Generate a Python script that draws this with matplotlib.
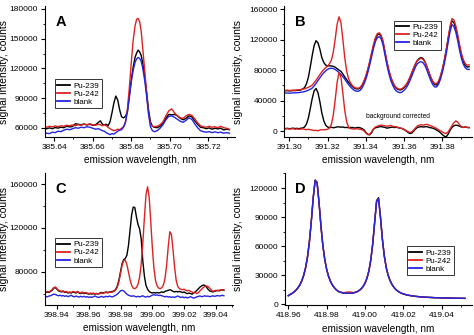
import numpy as np
import matplotlib
matplotlib.use("Agg")
import matplotlib.pyplot as plt
from matplotlib.ticker import MultipleLocator, FormatStrFormatter

plt.rcParams['font.family'] = ['Liberation Sans Narrow', 'Liberation Sans', 'DejaVu Sans']

BLACK = '#000000'
RED = '#dd2222'
BLUE = '#2424e0'
series_labels = ['Pu-239', 'Pu-242', 'blank']
xlabel = 'emission wavelength, nm'
ylabel = 'signal intensity, counts'

# ---------------- Panel A: 385.68 nm region (counts in thousands) ----------------
a_wl = [385.6360, 385.6375, 385.6390, 385.6405, 385.6420, 385.6435, 385.6450, 385.6465,
        385.6480, 385.6495, 385.6510, 385.6525, 385.6540, 385.6555, 385.6570, 385.6585,
        385.6600, 385.6615, 385.6630, 385.6640, 385.6650, 385.6660, 385.6670, 385.6680,
        385.6690, 385.6700, 385.6710, 385.6720, 385.6730, 385.6740, 385.6750, 385.6760,
        385.6770, 385.6780, 385.6790, 385.6800, 385.6810, 385.6820, 385.6828, 385.6836,
        385.6844, 385.6852, 385.6860, 385.6870, 385.6880, 385.6890, 385.6900, 385.6910,
        385.6920, 385.6935, 385.6950, 385.6965, 385.6980, 385.6995, 385.7010, 385.7025,
        385.7040, 385.7055, 385.7070, 385.7085, 385.7100, 385.7115, 385.7130, 385.7145,
        385.7160, 385.7175, 385.7190, 385.7205, 385.7220, 385.7235, 385.7250, 385.7265,
        385.7280, 385.7295, 385.7310]
a_pu239 = [59.0, 59.8, 59.0, 60.2, 59.6, 60.5, 60.0, 61.5,
           60.8, 61.2, 64.0, 63.5, 63.0, 63.8, 62.8, 63.5,
           62.5, 63.0, 65.5, 67.0, 63.5, 63.0, 63.5, 62.0,
           66.0, 75.0, 85.0, 92.0, 88.0, 78.0, 71.0, 70.0,
           71.5, 76.0, 92.0, 108.0, 121.0, 131.0, 135.5, 138.5,
           136.5, 133.0, 125.0, 112.0, 96.0, 78.0, 66.0, 61.5,
           60.5, 60.0, 61.5, 64.5, 69.5, 73.5, 73.0, 73.5,
           72.0, 69.5, 68.0, 69.5, 72.0, 71.0, 67.0, 63.5,
           60.5, 60.0, 59.0, 59.8, 58.5, 59.5, 58.8, 59.5,
           57.8, 58.5, 58.0]
a_pu242 = [60.5, 61.5, 60.8, 61.8, 61.0, 62.0, 61.5, 62.5,
           62.0, 62.8, 62.0, 63.0, 62.5, 63.5, 63.0, 64.0,
           63.0, 62.5, 63.5, 63.0, 62.0, 63.0, 62.0, 60.5,
           59.0, 58.0, 57.0, 57.5, 58.5, 58.0, 59.5, 61.0,
           66.0, 78.0, 100.0, 125.0, 148.0, 163.0, 169.5, 170.5,
           167.0, 157.0, 140.0, 118.0, 95.0, 75.0, 64.0, 61.5,
           61.0, 61.5, 63.0, 66.0, 72.0, 77.0, 79.0, 75.0,
           72.0, 70.0, 69.5, 72.0, 73.5, 72.5, 69.0, 65.0,
           62.0, 61.0, 60.5, 61.5, 60.5, 61.0, 60.0, 61.5,
           60.0, 59.5, 58.5]
a_blank = [54.5, 54.0, 55.5, 55.0, 56.5, 56.0, 57.5, 58.5,
           58.0, 59.0, 60.0, 59.5, 60.5, 60.0, 61.0, 60.5,
           59.5, 58.5, 59.0, 58.0, 57.0, 56.5, 55.0, 54.0,
           53.0, 54.0, 53.5, 55.0, 56.5, 57.5, 58.0, 60.5,
           65.0, 76.0, 90.0, 106.0, 118.0, 126.0, 129.5, 131.0,
           130.0, 127.0, 120.0, 108.0, 92.0, 74.0, 61.0, 57.0,
           56.0, 57.0, 59.5, 63.0, 68.0, 71.5, 72.0, 70.5,
           68.5, 66.5, 65.5, 67.5, 70.0, 68.5, 64.0, 60.0,
           57.0, 56.0, 55.5, 56.0, 55.0, 55.8, 55.0, 55.5,
           54.5, 55.0, 54.5]

# ---------------- Panel B: 391.3 nm region, sampled every 0.001 nm from 391.298 ----------------
b_start, b_step = 391.298, 0.001
b_pu239 = [53.0, 53.2, 52.8, 53.0, 53.3, 53.2, 53.5, 53.6, 54.0, 55.3,
           57.2, 62.2, 70.9, 84.6, 99.4, 112.4, 118.6, 115.8, 107.4, 96.5,
           90.2, 86.6, 85.6, 85.7, 85.5, 85.0, 83.8, 82.0, 80.0, 78.5,
           75.0, 71.0, 67.5, 64.0, 61.0, 58.5, 56.5, 55.5, 55.3, 56.5,
           59.5, 64.5, 71.0, 79.5, 89.5, 100.5, 111.5, 120.5, 126.0, 127.5,
           124.5, 116.5, 103.5, 90.5, 79.5, 70.5, 64.0, 59.0, 56.0, 54.5,
           54.0, 55.0, 57.0, 60.0, 64.0, 69.5, 76.0, 82.5, 88.5, 93.0,
           95.5, 96.5, 95.0, 90.5, 84.0, 77.0, 70.0, 64.5, 61.0, 60.5,
           64.0, 71.0, 80.5, 92.0, 105.5, 121.0, 135.0, 144.5, 142.5, 135.0,
           123.5, 110.5, 99.0, 91.0, 86.0, 84.0, 84.5]
b_pu242 = [53.5, 53.8, 53.3, 53.5, 53.8, 53.6, 54.0, 54.2, 54.6, 55.0,
           55.6, 56.5, 57.5, 58.8, 60.5, 63.5, 66.8, 70.6, 74.2, 77.7,
           80.8, 83.3, 85.3, 88.4, 93.1, 103.5, 120.8, 140.1, 149.9, 142.2,
           120.3, 96.1, 78.6, 68.5, 63.2, 59.7, 57.5, 56.5, 56.3, 57.5,
           60.5, 65.8, 72.5, 81.2, 91.3, 102.5, 113.5, 122.5, 127.8, 129.0,
           126.0, 118.0, 104.8, 91.8, 80.5, 71.5, 65.0, 60.0, 57.0, 55.5,
           55.0, 56.0, 58.0, 61.0, 65.0, 70.5, 76.5, 82.8, 88.5, 92.5,
           94.5, 95.5, 94.0, 90.0, 84.0, 77.0, 70.5, 65.5, 62.5, 62.3,
           65.8, 72.5, 81.5, 93.0, 106.5, 122.0, 137.0, 147.5, 146.0, 138.5,
           127.0, 113.5, 101.5, 93.5, 88.5, 86.5, 87.0]
b_blank = [50.0, 50.2, 49.8, 50.0, 50.3, 50.2, 50.5, 50.6, 51.0, 51.4,
           52.0, 52.8, 53.8, 55.0, 56.5, 59.5, 62.7, 66.5, 70.0, 73.5,
           76.5, 79.0, 81.0, 82.2, 82.5, 82.0, 80.8, 79.0, 76.8, 74.5,
           71.5, 68.0, 64.5, 61.0, 58.0, 55.5, 53.5, 52.5, 52.3, 53.5,
           56.5, 61.5, 68.0, 76.5, 86.5, 97.5, 108.5, 117.5, 122.5, 124.0,
           121.0, 113.0, 100.0, 87.0, 76.0, 67.0, 60.5, 55.5, 52.5, 51.0,
           50.5, 51.5, 53.5, 56.5, 60.5, 66.0, 72.0, 78.5, 84.5, 88.5,
           90.5, 91.0, 89.5, 85.5, 79.5, 72.5, 66.0, 61.0, 58.0, 58.0,
           61.5, 68.0, 77.0, 88.0, 101.0, 116.0, 130.0, 139.5, 137.5, 130.0,
           119.0, 106.0, 95.0, 87.5, 83.0, 81.0, 81.0]
# background-corrected traces (sample minus blank)
b_pu239_corr = [3.5, 3.8, 3.2, 3.6, 4.0, 3.5, 3.8, 3.3, 3.9, 4.2,
                5.5, 9.5, 17.5, 30.0, 43.0, 53.0, 56.0, 50.5, 38.5, 24.0,
                14.0, 8.0, 5.5, 4.8, 5.2, 4.5, 5.0, 5.6, 5.8, 5.2,
                5.5, 4.8, 5.0, 4.5, 4.8, 5.0, 4.2, 4.5, 5.0, 4.5,
                3.5, 2.0, -1.5, -4.0, -4.8, -2.0, 2.5, 4.5, 5.0, 5.8,
                6.0, 5.5, 5.0, 4.0, 4.5, 5.0, 5.5, 4.8, 5.2, 4.5,
                4.0, 3.5, 2.0, 0.5, -1.5, -3.0, -2.5, 0.0, 3.0, 5.0,
                5.5, 6.0, 5.5, 5.8, 6.0, 5.0, 4.5, 4.0, 3.0, 1.5,
                0.0, -2.0, -4.5, -6.5, -7.3, -4.0, 1.0, 5.0, 7.0, 8.0,
                7.5, 6.5, 5.5, 5.0, 5.5, 5.0, 4.8]
b_pu242_corr = [3.0, 3.3, 2.8, 3.0, 3.3, 2.6, 3.0, 2.5, 2.8, 3.0,
                2.5, 2.0, 2.5, 2.0, 1.5, 1.0, 1.2, 0.5, 1.5, 2.0,
                1.8, 2.0, 2.5, 4.0, 9.0, 21.0, 41.0, 64.0, 77.0, 71.0,
                50.0, 27.0, 12.0, 5.5, 3.5, 3.0, 2.8, 3.2, 3.0, 2.5,
                2.0, 0.5, -2.0, -4.5, -4.0, -1.0, 3.0, 5.5, 6.5, 7.5,
                8.0, 7.5, 7.0, 6.5, 7.0, 7.5, 6.5, 6.0, 5.5, 5.0,
                4.0, 3.5, 2.5, 1.0, -0.5, -1.5, -1.0, 1.5, 4.5, 7.0,
                8.0, 8.5, 8.0, 8.5, 9.0, 8.0, 7.0, 6.0, 5.0, 3.5,
                2.0, 0.5, -1.0, -2.5, -3.0, -1.0, 3.0, 7.0, 11.0, 13.5,
                12.0, 8.5, 6.0, 5.0, 5.5, 5.0, 4.5]

# ---------------- Panel C: 399.0 nm region, sampled every 0.001 nm from 398.933 ----------------
c_start, c_step = 398.933, 0.001
c_pu239 = [61.0, 61.5, 61.0, 62.0, 63.0, 65.0, 65.5, 64.0, 62.5, 62.0,
           61.5, 62.0, 61.0, 61.5, 60.5, 61.0, 60.5, 61.5, 61.0, 60.5,
           61.5, 60.5, 60.0, 60.8, 60.0, 60.5, 60.0, 59.5, 60.0, 59.5,
           60.0, 59.5, 60.0, 59.5, 60.5, 61.0, 60.5, 61.0, 61.5, 61.0,
           61.5, 61.5, 62.0, 62.5, 64.0, 67.0, 72.5, 80.0, 87.5, 91.0,
           92.0, 95.0, 104.0, 118.0, 132.0, 139.0, 138.5, 130.0, 123.0, 119.0,
           110.0, 90.0, 76.0, 67.5, 64.0, 62.0, 61.0, 60.5, 61.0, 60.5,
           61.0, 60.5, 61.0, 61.5, 61.0, 62.0, 62.5, 63.0, 63.5, 63.0,
           62.0, 61.5, 62.0, 61.5, 62.0, 61.5, 61.0, 61.5, 60.5, 60.0,
           60.5, 60.0, 59.5, 60.5, 61.5, 63.0, 64.5, 66.0, 67.0, 67.8,
           67.5, 66.0, 64.0, 62.5, 62.0, 61.5, 62.0, 62.5, 63.0, 62.5,
           63.0, 63.5, 63.0]
c_pu242 = [61.5, 62.0, 61.5, 62.5, 63.5, 65.5, 66.0, 64.5, 63.0, 62.5,
           62.0, 62.5, 61.5, 62.0, 61.0, 61.5, 61.0, 62.0, 61.5, 61.0,
           62.0, 61.0, 60.5, 61.5, 60.5, 61.0, 60.5, 60.0, 60.5, 60.0,
           60.5, 59.8, 60.2, 59.5, 60.0, 60.5, 60.0, 60.8, 61.0, 60.5,
           61.5, 61.0, 61.5, 62.0, 63.5, 66.0, 71.0, 78.5, 86.0, 90.0,
           90.5, 86.5, 79.5, 72.5, 67.5, 65.0, 64.5, 65.5, 68.5, 75.0,
           87.0, 106.0, 129.0, 150.0, 157.5, 148.0, 126.0, 102.0, 83.0, 72.0,
           67.0, 65.0, 64.5, 65.5, 68.0, 74.0, 86.0, 103.0, 116.5, 114.0,
           100.0, 84.0, 72.0, 66.5, 64.5, 64.0, 63.5, 64.0, 63.0, 62.5,
           63.0, 62.0, 61.5, 60.5, 61.0, 60.0, 61.0, 62.5, 64.0, 65.5,
           66.5, 67.0, 66.5, 65.0, 63.5, 62.0, 62.5, 63.0, 62.5, 63.0,
           63.5, 63.0, 63.5]
c_blank = [57.5, 57.0, 57.8, 58.0, 58.8, 59.5, 59.2, 58.5, 58.0, 58.5,
           57.8, 58.2, 57.5, 58.0, 57.2, 57.8, 58.5, 57.5, 57.0, 57.8,
           57.2, 56.8, 57.5, 57.0, 57.5, 56.8, 57.2, 56.5, 57.0, 56.5,
           57.2, 57.8, 57.0, 56.5, 56.8, 57.5, 56.8, 57.0, 57.5, 57.0,
           57.8, 57.2, 57.0, 57.8, 58.5, 59.5, 61.0, 62.5, 63.0, 62.5,
           61.0, 59.5, 58.5, 58.0, 57.5, 58.0, 57.5, 57.0, 57.5, 57.0,
           57.5, 58.0, 57.2, 56.8, 57.5, 57.0, 57.8, 58.5, 59.0, 58.5,
           58.8, 58.2, 58.5, 58.0, 57.5, 57.0, 57.5, 56.8, 57.2, 56.5,
           57.0, 56.5, 57.2, 57.8, 57.0, 56.5, 57.0, 56.2, 56.8, 56.0,
           56.5, 57.2, 56.5, 55.8, 56.5, 57.0, 57.5, 57.8, 57.2, 57.5,
           58.0, 57.5, 57.8, 57.2, 57.5, 58.0, 57.5, 57.8, 58.2, 57.8,
           58.0, 58.5, 58.0]

# ---------------- Panel D: 419.0 nm region, sampled every 0.001 nm from 418.960 ----------------
d_start, d_step = 418.960, 0.001
d_blank = [8.8, 10.1, 11.2, 12.7, 14.5, 16.9, 19.9, 24.0, 29.6, 37.4,
           48.5, 64.4, 85.6, 110.0, 127.5, 125.3, 105.3, 81.0, 60.9, 46.2,
           35.9, 28.7, 23.5, 19.8, 17.0, 14.9, 13.3, 12.4, 12.0, 11.4,
           11.5, 11.3, 11.25, 11.35, 11.7, 12.3, 13.1, 14.3, 16.0, 18.4,
           21.9, 27.0, 34.5, 46.0, 62.6, 84.7, 106.0, 109.0, 90.0, 67.5,
           50.0, 38.0, 30.0, 24.5, 20.5, 17.5, 15.2, 13.6, 12.3, 11.3,
           10.6, 10.0, 9.5, 9.1, 8.8, 8.5, 8.2, 8.0, 7.8, 7.6,
           7.5, 7.35, 7.2, 7.1, 7.0, 6.9, 6.8, 6.75, 6.7, 6.6,
           6.55, 6.5, 6.45, 6.4, 6.35, 6.3, 6.25, 6.2, 6.2, 6.15,
           6.1, 6.1, 6.05]
d_pu239 = [8.8, 10.1, 11.2, 12.7, 14.5, 16.9, 19.9, 24.0, 29.6, 37.4,
           48.5, 64.4, 85.6, 110.3, 128.3, 126.0, 105.5, 81.0, 60.9, 46.2,
           35.9, 28.7, 23.5, 19.8, 17.0, 14.9, 13.3, 12.4, 12.0, 11.4,
           11.5, 11.3, 11.25, 11.35, 11.7, 12.3, 13.1, 14.3, 16.0, 18.4,
           21.9, 27.0, 34.5, 46.0, 62.6, 85.0, 107.0, 110.0, 90.5, 67.5,
           50.0, 38.0, 30.0, 24.5, 20.5, 17.5, 15.2, 13.6, 12.3, 11.3,
           10.6, 10.0, 9.5, 9.1, 8.8, 8.5, 8.2, 8.0, 7.8, 7.6,
           7.5, 7.35, 7.2, 7.1, 7.0, 6.9, 6.8, 6.75, 6.7, 6.6,
           6.55, 6.5, 6.45, 6.4, 6.35, 6.3, 6.25, 6.2, 6.2, 6.15,
           6.1, 6.1, 6.05]
d_pu242 = [8.8, 10.1, 11.2, 12.7, 14.5, 16.9, 19.9, 24.2, 30.0, 38.0,
           49.2, 65.0, 86.2, 110.3, 127.8, 125.3, 105.3, 81.0, 60.9, 46.2,
           35.9, 28.7, 23.5, 19.8, 17.0, 14.9, 13.3, 12.4, 12.0, 11.8,
           12.3, 12.6, 12.7, 12.4, 12.0, 12.3, 13.1, 14.3, 16.0, 18.4,
           21.9, 27.0, 34.5, 46.0, 62.6, 84.7, 106.0, 109.0, 90.0, 67.5,
           50.0, 38.0, 30.0, 24.5, 20.5, 17.5, 15.2, 13.6, 12.3, 11.3,
           10.6, 10.0, 9.5, 9.1, 8.8, 8.5, 8.2, 8.0, 7.8, 7.6,
           7.5, 7.35, 7.2, 7.1, 7.0, 6.9, 6.8, 6.75, 6.7, 6.6,
           6.55, 6.5, 6.45, 6.4, 6.35, 6.3, 6.25, 6.2, 6.2, 6.15,
           6.1, 6.1, 6.05]


def grid(start, step, values):
    return start + step * np.arange(len(values))


def counts(values_k):
    return np.asarray(values_k) * 1000.0


def style_axes(ax, xmajor, ymajor, letter, ylabel_x):
    ax.spines['top'].set_visible(False)
    ax.spines['right'].set_visible(False)
    for s in ('left', 'bottom'):
        ax.spines[s].set_linewidth(0.8)
    ax.xaxis.set_major_locator(MultipleLocator(xmajor))
    ax.xaxis.set_minor_locator(MultipleLocator(xmajor / 2))
    ax.xaxis.set_major_formatter(FormatStrFormatter('%.2f'))
    ax.yaxis.set_major_locator(MultipleLocator(ymajor))
    ax.yaxis.set_minor_locator(MultipleLocator(ymajor / 2))
    ax.tick_params(which='major', direction='out', length=3, width=0.8,
                   labelsize=6, pad=2)
    ax.tick_params(which='minor', direction='out', length=1.5, width=0.6)
    ax.set_xlabel(xlabel, fontsize=7.2, labelpad=3)
    ax.set_ylabel(ylabel, fontsize=7.5, family=['Liberation Sans', 'DejaVu Sans'])
    ax.yaxis.set_label_coords(ylabel_x, 0.5)
    ax.text(0.055, 0.935, letter, transform=ax.transAxes,
            fontsize=10.5, fontweight='bold', ha='left', va='top',
            family=['Liberation Sans', 'DejaVu Sans'])


def add_legend(ax, handles, loc, anchor):
    leg = ax.legend(handles, series_labels, loc=loc, bbox_to_anchor=anchor,
                    borderaxespad=0, fontsize=5.8, frameon=True, fancybox=False,
                    handlelength=1.6, handletextpad=0.4, labelspacing=0.05,
                    borderpad=0.3)
    leg.get_frame().set_edgecolor('black')
    leg.get_frame().set_linewidth(0.7)
    for line in leg.get_lines():
        line.set_linewidth(1.3)


fig = plt.figure(figsize=(4.74, 3.35), dpi=100)

# Panel A
axA = fig.add_axes([0.0949, 0.5901, 0.4008, 0.3919])
hA = [axA.plot(a_wl, counts(a_pu239), color=BLACK, lw=1.0)[0],
      axA.plot(a_wl, counts(a_pu242), color=RED, lw=1.0)[0],
      axA.plot(a_wl, counts(a_blank), color=BLUE, lw=1.0)[0]]
axA.set_xlim(385.6352, 385.7339)
axA.set_ylim(50300, 183000)
style_axes(axA, 0.02, 30000, 'A', -0.19)
add_legend(axA, hA, 'lower left', (0.053, 0.223))

# Panel B
axB = fig.add_axes([0.5998, 0.5901, 0.3960, 0.3919])
xb = grid(b_start, b_step, b_blank)
hB = [axB.plot(xb, counts(b_pu239), color=BLACK, lw=1.0)[0],
      axB.plot(xb, counts(b_pu242), color=RED, lw=1.0)[0],
      axB.plot(xb, counts(b_blank), color=BLUE, lw=1.0)[0]]
axB.plot(xb, counts(b_pu239_corr), color=BLACK, lw=1.0)
axB.plot(xb, counts(b_pu242_corr), color=RED, lw=1.0)
axB.set_xlim(391.2974, 391.3955)
axB.set_ylim(-8000, 164000)
style_axes(axB, 0.02, 40000, 'B', -0.222)
axB.text(0.605, 0.155, 'background corrected', transform=axB.transAxes,
         fontsize=4.8, ha='center', va='center')
add_legend(axB, hB, 'upper left', (0.584, 0.886))

# Panel C
axC = fig.add_axes([0.0949, 0.0896, 0.3966, 0.3931])
xc = grid(c_start, c_step, c_blank)
hC = [axC.plot(xc, counts(c_pu239), color=BLACK, lw=1.0)[0],
      axC.plot(xc, counts(c_pu242), color=RED, lw=1.0)[0],
      axC.plot(xc, counts(c_blank), color=BLUE, lw=1.0)[0]]
axC.set_xlim(398.9325, 399.0507)
axC.set_ylim(49600, 169800)
style_axes(axC, 0.02, 40000, 'C', -0.19)
add_legend(axC, hC, 'lower left', (0.053, 0.289))

# Panel D
axD = fig.add_axes([0.6013, 0.0881, 0.3945, 0.3955])
xd = grid(d_start, d_step, d_blank)
hD = [axD.plot(xd, counts(d_pu239), color=BLACK, lw=1.0)[0],
      axD.plot(xd, counts(d_pu242), color=RED, lw=1.0)[0],
      axD.plot(xd, counts(d_blank), color=BLUE, lw=1.0)[0]]
axD.set_xlim(418.9583, 419.0557)
axD.set_ylim(-1300, 135500)
style_axes(axD, 0.02, 30000, 'D', -0.223)
add_legend(axD, hD, 'lower left', (0.652, 0.23))

fig.savefig('out.png', dpi=100)
